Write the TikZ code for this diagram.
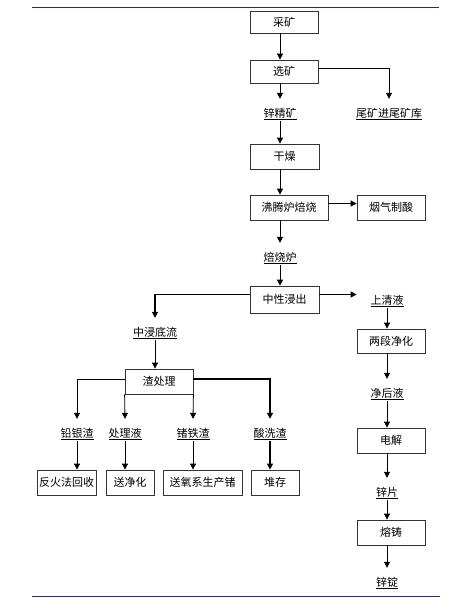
\documentclass[tikz,border=0pt]{standalone}
\usepackage{fontspec}
\setmainfont{Noto Sans CJK SC}
\usepackage{xcolor}
\usepackage{tikz}
\usetikzlibrary{arrows.meta, shadows}
\definecolor{lanxian}{HTML}{1F2A80}
\definecolor{kuangxian}{HTML}{333333}
\tikzset{
  every picture/.style={font=\fontsize{11}{13}\selectfont, >={Triangle[width=6pt,length=6pt]}},
  gongyi/.style={draw=kuangxian, line width=0.8pt, fill=white, minimum width=68pt, minimum height=25pt,
              inner xsep=1pt, inner ysep=1pt,
              drop shadow={shadow xshift=1pt, shadow yshift=-1pt, fill=black!50, opacity=0.7}},
  chanwu/.style={anchor=base, text height=17pt, text depth=3pt, inner ysep=1pt, inner xsep=1pt},
  jiantou/.style={->, line width=0.8pt},
  jiantoucu/.style={->, line width=1.3pt},
}

\begin{document}
\begin{tikzpicture}[x=1pt, y=-1pt]
  \useasboundingbox (0,0) rectangle (459,602);
  % page rules
  \draw[lanxian, line width=1pt] (32,8) -- (439,8);
  \draw[lanxian, line width=1pt] (32,596) -- (440,596);

  % main line
  \node[gongyi, minimum height=22pt] (ck) at (284,22) {采矿};
  \node[gongyi, minimum height=23pt] (xk) at (284,71.5) {选矿};
  \node[chanwu] (xjk) at (280,117) {\underline{锌精矿}};
  \node[chanwu] (wk) at (389,117) {\underline{尾矿进尾矿库}};
  \node[gongyi, minimum width=69pt] (gz) at (284.5,156.5) {干燥};
  \node[gongyi, minimum width=78pt] (fs) at (289,207.5) {沸腾炉焙烧};
  \node[gongyi] (yq) at (391,207.5) {烟气制酸};
  \node[chanwu] (bsl) at (280,261) {\underline{焙烧炉}};
  \node[gongyi, minimum width=69pt, minimum height=27pt] (zx) at (284.5,299.5) {中性浸出};

  % residue branch
  \node[chanwu] (zj) at (155,336) {\underline{中浸底流}};
  \node[gongyi] (zcl) at (159,381.5) {渣处理};
  \node[chanwu] (qy) at (77,437) {\underline{铅银渣}};
  \node[chanwu] (cl) at (125,437) {\underline{处理液}};
  \node[chanwu] (zt) at (193,437) {\underline{锗铁渣}};
  \node[chanwu] (sx) at (270,437) {\underline{酸洗渣}};
  \node[gongyi, minimum width=59pt] (b1) at (66.5,482.5) {反火法回收};
  \node[gongyi, minimum width=48pt] (b2) at (130,482.5) {送净化};
  \node[gongyi, minimum width=79pt] (b3) at (202.5,482.5) {送氧系生产锗};
  \node[gongyi, minimum width=48pt] (b4) at (275,482.5) {堆存};

  % solution branch
  \node[chanwu] (sq) at (387,304) {\underline{上清液}};
  \node[gongyi, minimum height=24pt] (ld) at (391,341) {两段净化};
  \node[chanwu] (jh) at (387,397) {\underline{净后液}};
  \node[gongyi] (dj) at (391,440.5) {电解};
  \node[chanwu] (xp) at (387,496) {\underline{锌片}};
  \node[gongyi] (rz) at (391,532.5) {熔铸};
  \node[chanwu] (xd) at (387,586) {\underline{锌锭}};

  % connectors
  \draw[jiantou] (ck.south -| xjk) -- (xk.north -| xjk);
  \draw[jiantou] (xk.south -| xjk) -- (xjk.north);
  \draw[jiantou] ([yshift=3pt]xk.east) -| (wk.north);
  \draw[jiantou] (xjk.south) -- (gz.north -| xjk);
  \draw[jiantou] (gz.south -| xjk) -- (fs.north -| xjk);
  \draw[jiantou] ([yshift=4pt]fs.east) -- ([yshift=4pt]fs.east -| yq.west);
  \draw[jiantou] (fs.south -| xjk) -- (bsl.north);
  \draw[jiantou] (bsl.south) -- (zx.north -| bsl);
  \draw[jiantoucu] ([yshift=5pt]zx.east) -- ([yshift=5pt]zx.east -| ld.west);
  \draw[jiantoucu] ([yshift=5pt]zx.west) -| (zj.north);
  \draw[jiantou] (zj.south) -- (zcl.north -| zj);
  \draw[jiantou] ([yshift=2.5pt]zcl.west) -| (qy.north);
  \draw[jiantou] (zcl.south west) -- (cl.north);
  \draw[jiantou] (zcl.south east) -- (zt.north);
  \draw[jiantoucu] ([yshift=2.5pt]zcl.east) -| (sx.north);
  \draw[jiantou] (qy.south) -- (b1.north -| qy);
  \draw[jiantou] (cl.south) -- (b2.north -| cl);
  \draw[jiantou] (zt.south) -- (b3.north -| zt);
  \draw[jiantoucu] (sx.south) -- (b4.north -| sx);
  \draw[jiantou] (sq.south) -- (ld.north -| sq);
  \draw[jiantou] (ld.south -| sq) -- (jh.north);
  \draw[jiantou] (jh.south) -- (dj.north -| jh);
  \draw[jiantou] (dj.south -| jh) -- (xp.north);
  \draw[jiantou] (xp.south) -- (rz.north -| xp);
  \draw[jiantou] (rz.south -| xp) -- (xd.north);
\end{tikzpicture}
\end{document}
